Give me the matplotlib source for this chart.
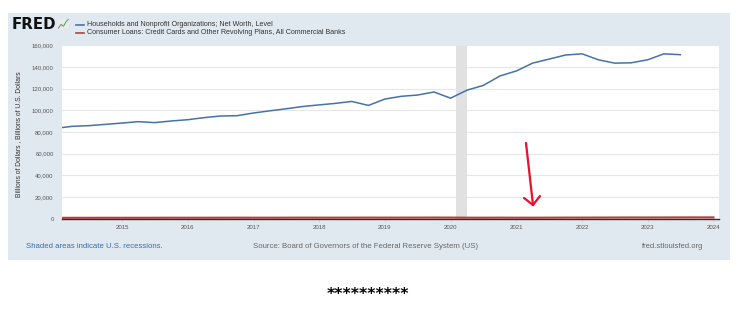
import matplotlib
matplotlib.use("Agg")
import matplotlib.pyplot as plt
import matplotlib.dates as mdates
from matplotlib.lines import Line2D
from matplotlib.patches import Rectangle
from matplotlib.ticker import FuncFormatter
import pandas as pd

plt.rcParams['font.family'] = ['Liberation Sans', 'DejaVu Sans']

# Households and Nonprofit Organizations; Net Worth, Level (billions, quarterly)
nw_dates = pd.date_range('2014-01-01', '2023-07-01', freq='QS')
nw_values = [83500, 85300, 85900, 87100, 88300, 89600, 88700, 90200,
             91400, 93300, 94800, 95100, 97600, 99600, 101500, 103600,
             105100, 106500, 108300, 104600, 110500, 113000, 114200, 117000,
             111300, 118700, 123100, 131800, 136500, 143700, 147400, 151200,
             152300, 146800, 143700, 144000, 146800, 152300, 151500]

# Consumer Loans: Credit Cards and Other Revolving Plans, All Commercial Banks
cc_dates = pd.date_range('2014-01-01', '2024-01-01', freq='QS')
cc_values = [640, 650, 660, 700, 680, 690, 700, 740, 720, 730, 750, 790,
             760, 770, 790, 830, 800, 810, 820, 860, 830, 850, 860, 900,
             860, 780, 770, 800, 760, 780, 800, 870, 860, 900, 930, 990,
             960, 990, 1010, 1050, 1030]

yticks = [0, 20000, 40000, 60000, 80000, 100000, 120000, 140000, 160000]
recession = ('2020-02-01', '2020-04-01')

W, H = 749, 322


def px(x, y):
    return x / W, 1 - y / H


fig = plt.figure(figsize=(W / 100, H / 100), dpi=100)
fig.patch.set_facecolor('white')

# grey-blue FRED panel
x0, y0 = px(8, 260)
fig.add_artist(Rectangle((x0, y0), 722 / W, 247 / H, transform=fig.transFigure,
                         facecolor='#e1e9f0', edgecolor='none', zorder=0))

ax = fig.add_axes([62 / W, 1 - 219 / H, 657 / W, 173.5 / H])
ax.set_facecolor('white')
ax.axvspan(pd.Timestamp(recession[0]), pd.Timestamp(recession[1]),
           color='#e1e1e1', lw=0, zorder=1)
ax.plot(nw_dates, nw_values, color='#4572a7', lw=1.1, zorder=3)
ax.plot(cc_dates, cc_values, color='#aa4643', lw=1.6, zorder=3)

ax.set_xlim(pd.Timestamp('2014-02-01'), pd.Timestamp('2024-02-01'))
ax.set_ylim(-400, 160000)
ax.set_yticks(yticks)
ax.yaxis.set_major_formatter(FuncFormatter(lambda v, p: f'{int(v):,}'))
ax.xaxis.set_major_locator(mdates.YearLocator())
ax.xaxis.set_major_formatter(mdates.DateFormatter('%Y'))
ax.grid(axis='y', color='#e6e6e6', lw=0.8)
ax.set_axisbelow(True)
for s in ['top', 'right', 'left']:
    ax.spines[s].set_visible(False)
ax.spines['bottom'].set_color('#3a2a2a')
ax.spines['bottom'].set_linewidth(1.0)
ax.tick_params(axis='y', length=0, pad=6, labelsize=4.3, labelcolor='#555555')
ax.tick_params(axis='x', length=2, width=0.6, color='#ccd6eb', pad=2.5,
               labelsize=4.4, labelcolor='#555555')
fig.text(*px(19, 134), 'Billions of Dollars , Billions of U.S. Dollars', fontsize=4.9,
         color='#333333', rotation=90, ha='center', va='center')

# header: logo + legend
fig.text(*px(12, 29.3), 'FRED', fontsize=10.8, fontweight='bold', color='#111111',
         va='baseline', ha='left', family='DejaVu Sans')
icon = fig.add_axes([58 / W, 1 - 28.5 / H, 11 / W, 10 / H])
icon.plot([0, 1, 2, 3, 4], [0.5, 1.5, 1.0, 2.2, 3.0], color='#6fa35a', lw=0.8)
icon.set_facecolor('#e8ecef')
icon.set_xticks([])
icon.set_yticks([])
for s in icon.spines.values():
    s.set_visible(False)

legend_items = [('Households and Nonprofit Organizations; Net Worth, Level', '#4572a7', 24.5),
                ('Consumer Loans: Credit Cards and Other Revolving Plans, All Commercial Banks', '#aa4643', 32.5)]
for label, col, yy in legend_items:
    xa, ya = px(76, yy)
    xb, _ = px(84, yy)
    fig.add_artist(Line2D([xa, xb], [ya, ya], color=col, lw=1.2,
                          transform=fig.transFigure))
    fig.text(*px(87, yy), label, fontsize=5.1, color='#333333', va='center', ha='left')

# footer
fig.text(*px(26, 246.5), 'Shaded areas indicate U.S. recessions.', fontsize=5.55,
         color='#3d6aa8', va='center', ha='left')
fig.text(*px(366, 246.5), 'Source: Board of Governors of the Federal Reserve System (US)',
         fontsize=5.55, color='#666666', va='center', ha='center')
fig.text(*px(703, 246.5), 'fred.stlouisfed.org', fontsize=5.5, color='#666666',
         va='center', ha='right')

# hand-drawn red arrow
for seg in [((526, 143), (533, 205)), ((524, 198), (533, 205)), ((540, 196), (533, 205))]:
    (xa, ya), (xb, yb) = px(*seg[0]), px(*seg[1])
    fig.add_artist(Line2D([xa, xb], [ya, yb], color='#e8112d', lw=1.6,
                          solid_capstyle='round', transform=fig.transFigure))

fig.text(*px(368, 298.5), '**********', fontsize=11.3, fontweight='bold',
         color='black', va='baseline', ha='center', family='DejaVu Sans')

fig.savefig('out.png', dpi=100)
